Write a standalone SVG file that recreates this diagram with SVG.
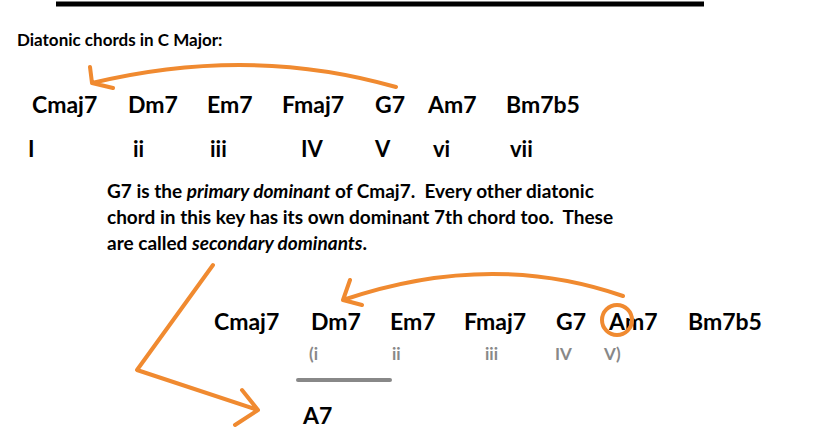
<svg xmlns="http://www.w3.org/2000/svg" width="816" height="429" viewBox="0 0 816 429">
<style>
text{font-family:Lato,"Open Sans",sans-serif;font-weight:bold;fill:#000}
.c{font-size:23px}
.n{font-size:22px}
.p{font-size:19px}
.g{font-size:17px;fill:#888}
.o{fill:none;stroke:#F08A30;stroke-width:4;stroke-linecap:round;stroke-linejoin:round}
</style>
<rect width="816" height="429" fill="#fff"/>
<line x1="56" y1="4" x2="704" y2="4" stroke="#000" stroke-width="5"/>
<text x="17" y="46" style="font-size:17px">Diatonic chords in C Major:</text>
<g id="row1">
<text class="c" x="32" y="113">Cmaj7</text><text class="c" x="128" y="113">Dm7</text><text class="c" x="207" y="113">Em7</text><text class="c" x="282" y="113">Fmaj7</text><text class="c" x="375" y="113">G7</text><text class="c" x="428" y="113">Am7</text><text class="c" x="506" y="113">Bm7b5</text>
<text class="n" x="28" y="157">I</text><text class="n" x="133" y="157">ii</text><text class="n" x="210" y="157">iii</text><text class="n" x="301" y="157">IV</text><text class="n" x="375" y="157">V</text><text class="n" x="433" y="157">vi</text><text class="n" x="510" y="157">vii</text>
</g>
<g id="para">
<text class="p" x="107" y="198">G7 is the <tspan font-style="italic">primary dominant</tspan> of Cmaj7.&#160; Every other diatonic</text>
<text class="p" x="107" y="224">chord in this key has its own dominant 7th chord too.&#160; These</text>
<text class="p" x="107" y="250">are called <tspan font-style="italic">secondary dominants</tspan>.</text>
</g>
<g id="row2">
<text class="c" x="214" y="330">Cmaj7</text><text class="c" x="311" y="330">Dm7</text><text class="c" x="390" y="330">Em7</text><text class="c" x="464" y="330">Fmaj7</text><text class="c" x="556" y="330">G7</text><text class="c" x="609" y="330">Am7</text><text class="c" x="688" y="330">Bm7b5</text>
<text class="g" x="309" y="360">(i</text><text class="g" x="392" y="360">ii</text><text class="g" x="485" y="360">iii</text><text class="g" x="555" y="360">IV</text><text class="g" x="604" y="360">V)</text>
<line x1="298" y1="380" x2="390" y2="380" stroke="#888" stroke-width="4" stroke-linecap="round"/>
<text class="c" x="303" y="424">A7</text>
</g>
<g id="connectors">
<path class="o" d="M396,87 Q250,45 92,83 M92,83 L90,67 M92,83 L113,88"/>
<path class="o" d="M623,296 Q490,250 343,300 M343,300 L350,280 M343,300 L362,305"/>
<circle class="o" cx="617" cy="320" r="15" stroke-width="3.5"/>
<path class="o" d="M213,265 L137,370 L258,410 M258,410 L242,390 M258,410 L235,425"/>
</g>
</svg>
